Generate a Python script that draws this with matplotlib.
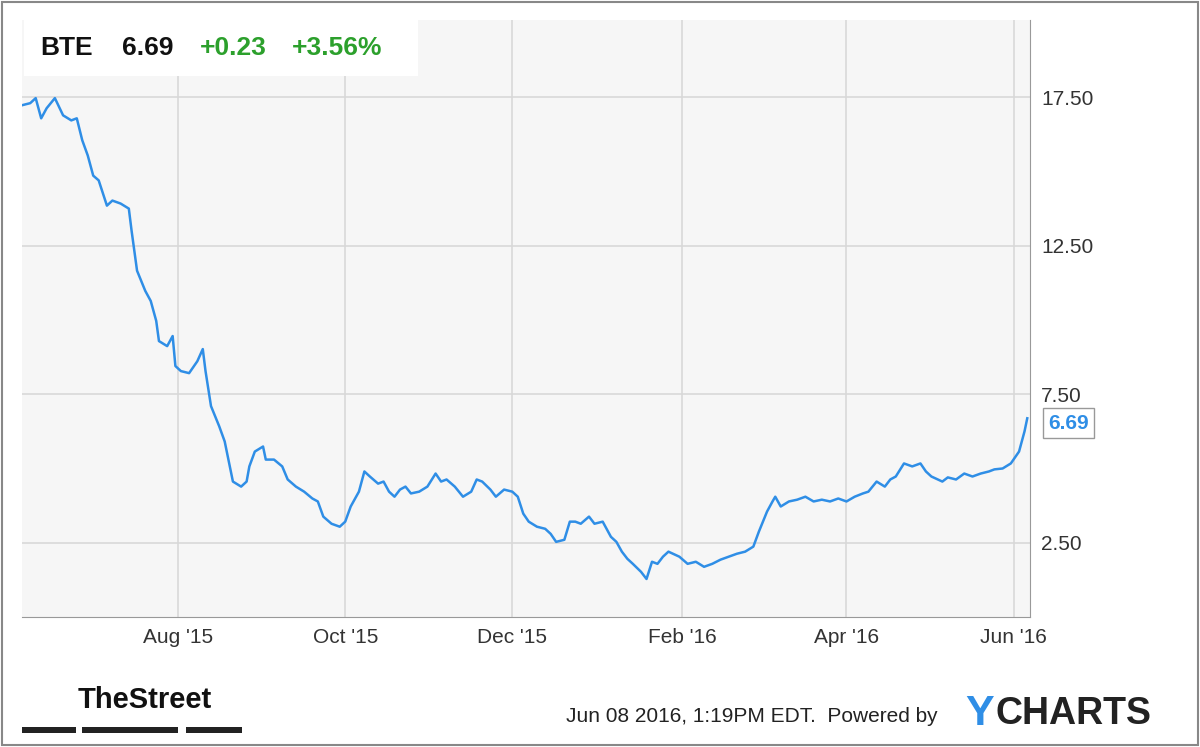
import matplotlib
matplotlib.use("Agg")
import matplotlib.pyplot as plt
import datetime as dt

plt.rcParams['font.family'] = ['Liberation Sans', 'DejaVu Sans']

start = dt.date(2015, 6, 5)
day_offsets = [0,3,5,7,9,12,15,18,20,22,24,26,28,31,33,36,39,40,42,45,47,49,50,53,55,56,58,61,64,66,67,69,72,74,77,80,82,83,85,88,89,92,95,97,100,103,106,108,110,113,116,118,120,123,125,127,130,132,134,136,138,140,142,145,148,151,153,155,158,161,164,166,168,171,173,176,179,181,183,185,188,191,193,195,198,200,202,204,207,209,212,215,217,219,221,223,226,228,230,232,234,236,240,243,246,249,252,255,258,261,264,267,269,272,274,275,277,280,283,286,289,292,295,298,301,304,307,309,312,315,317,319,322,325,328,330,332,336,338,341,344,347,350,353,355,358,361,364,366,367]
prices = [17.23,17.30,17.47,16.79,17.13,17.47,16.89,16.72,16.79,16.05,15.54,14.86,14.70,13.85,14.02,13.92,13.75,13.01,11.66,10.98,10.64,9.97,9.29,9.12,9.46,8.45,8.28,8.21,8.61,9.02,8.28,7.10,6.42,5.91,4.56,4.39,4.56,5.07,5.57,5.74,5.30,5.30,5.07,4.63,4.39,4.22,3.99,3.89,3.38,3.14,3.04,3.21,3.72,4.22,4.90,4.73,4.49,4.56,4.22,4.05,4.29,4.39,4.16,4.22,4.39,4.83,4.56,4.63,4.39,4.05,4.22,4.63,4.56,4.29,4.05,4.29,4.22,4.05,3.48,3.21,3.04,2.97,2.80,2.53,2.60,3.21,3.21,3.14,3.38,3.14,3.21,2.70,2.53,2.20,1.96,1.79,1.52,1.28,1.86,1.79,2.03,2.20,2.03,1.79,1.86,1.69,1.79,1.93,2.03,2.13,2.20,2.37,2.87,3.55,3.89,4.05,3.72,3.89,3.95,4.05,3.89,3.95,3.89,3.99,3.89,4.05,4.16,4.22,4.56,4.39,4.63,4.73,5.17,5.07,5.17,4.90,4.73,4.56,4.70,4.63,4.83,4.73,4.83,4.90,4.97,5.00,5.17,5.57,6.25,6.69]
n = min(len(day_offsets), len(prices))
dates = [start + dt.timedelta(days=d) for d in day_offsets[:n]]
prices = prices[:n]

ticker = "BTE"
last_price = "6.69"
change = "+0.23"
change_pct = "+3.56%"
yticks = [2.5, 7.5, 12.5, 17.5]
xtick_dates = [dt.date(2015,8,1), dt.date(2015,10,1), dt.date(2015,12,1), dt.date(2016,2,1), dt.date(2016,4,1), dt.date(2016,6,1)]
xtick_labels = ["Aug '15", "Oct '15", "Dec '15", "Feb '16", "Apr '16", "Jun '16"]

W, H = 1200, 747
fig = plt.figure(figsize=(12, 7.47), dpi=100)
fig.patch.set_facecolor("white")
fig.add_artist(plt.Rectangle((2/W, 2/H), 1-4/W, 1-4/H, transform=fig.transFigure,
                             fill=False, edgecolor="#888888", lw=1.5))
ax = fig.add_axes([22/W, 1-617/H, (1030-22)/W, (617-20)/H])
ax.set_facecolor("#f6f6f6")
ax.plot(dates, prices, color="#2f8ee6", lw=1.8)
ax.set_ylim(0, 20.1)
ax.set_xlim(start, dt.date(2016, 6, 7))
ax.set_yticks(yticks)
ax.set_yticklabels([f"{v:.2f}" for v in yticks])
ax.yaxis.tick_right()
ax.set_xticks(xtick_dates)
ax.set_xticklabels(xtick_labels)
ax.grid(True, color="#d8d8d8", lw=1.2)
ax.tick_params(length=0, labelsize=15, colors="#333333", pad=8)
for s in ax.spines.values():
    s.set_visible(False)
ax.spines["right"].set_visible(True); ax.spines["right"].set_color("#999999")
ax.spines["bottom"].set_visible(True); ax.spines["bottom"].set_color("#999999")

ax.annotate(f"{prices[-1]:.2f}", xy=(dates[-1], prices[-1]), xytext=(1048/W, 1-423/H),
            textcoords="figure fraction", color="#2f8ee6", fontsize=15, fontweight="bold",
            va="center", ha="left",
            bbox=dict(boxstyle="square,pad=0.25", fc="white", ec="#999999"))

fig.add_artist(plt.Rectangle((24/W, 1-76/H), (418-24)/W, 56/H, transform=fig.transFigure,
                             fc="white", ec="none", zorder=0.5))
fig.text(40/W, 1-48/H, ticker, fontsize=19, fontweight="bold", color="#111111", va="center")
fig.text(122/W, 1-48/H, last_price, fontsize=19, fontweight="bold", color="#111111", va="center")
fig.text(200/W, 1-48/H, change, fontsize=19, fontweight="bold", color="#2ca02c", va="center")
fig.text(292/W, 1-48/H, change_pct, fontsize=19, fontweight="bold", color="#2ca02c", va="center")

fig.text(78/W, 1-700/H, "TheStreet", fontsize=21, fontweight="bold", color="#111111", va="center")
for x0, x1 in [(22, 76), (82, 178), (186, 242)]:
    fig.add_artist(plt.Rectangle((x0/W, 1-733/H), (x1-x0)/W, 6/H, transform=fig.transFigure,
                                 fc="#222222", ec="none"))
fig.text(566/W, 1-717/H, "Jun 08 2016, 1:19PM EDT.  Powered by", fontsize=15, color="#222222", va="center")
fig.text(965/W, 1-714/H, "Y", fontsize=31, fontweight="bold", color="#2f8ee6", va="center")
fig.text(995/W, 1-714/H, "CHARTS", fontsize=27, fontweight="bold", color="#222222", va="center")

fig.savefig("out.png", dpi=100)
